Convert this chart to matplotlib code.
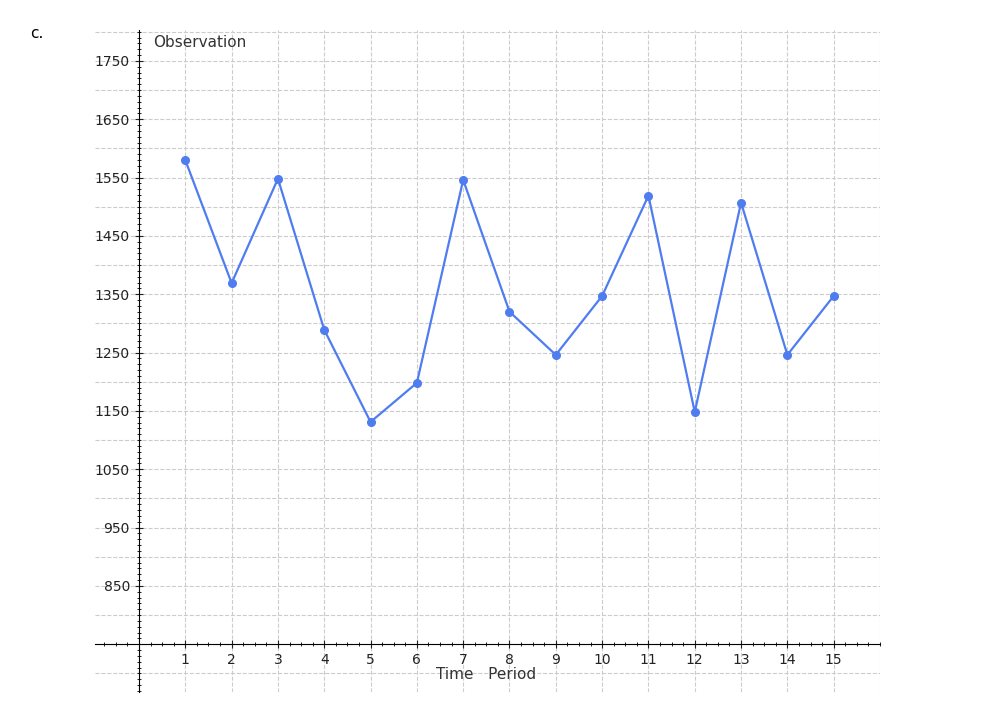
import matplotlib
matplotlib.use("Agg")
import matplotlib.pyplot as plt
from matplotlib.ticker import MultipleLocator

periods = list(range(1, 16))
observations = [1580, 1369, 1548, 1289, 1131, 1198, 1546, 1320, 1246, 1347, 1519, 1148, 1507, 1246, 1347]
yticks = list(range(850, 1751, 100))

fig = plt.figure(figsize=(10.01, 7.24), dpi=100)
ax = fig.add_axes([95/1001, 1-692/724, (880-95)/1001, (692-30)/724])
ax.set_xlim(-0.95, 16.0)
ax.set_ylim(668, 1803)
for s in ['top', 'right']:
    ax.spines[s].set_visible(False)
ax.spines['left'].set_position(('data', 0))
ax.spines['bottom'].set_position(('data', 750))
ax.set_xticks(periods)
ax.set_yticks(yticks)
ax.xaxis.set_minor_locator(MultipleLocator(0.25))
ax.yaxis.set_minor_locator(MultipleLocator(10))
ax.tick_params(axis='both', direction='inout', length=6, labelsize=10, colors='#222222')
ax.tick_params(which='minor', direction='inout', length=3)
for v in range(-1, 17):
    ax.axvline(v, color='#cccccc', ls='--', lw=0.8, zorder=0)
for v in range(700, 1801, 50):
    ax.axhline(v, color='#cccccc', ls='--', lw=0.8, zorder=0)
ax.plot(periods, observations, color='#4f7df0', lw=1.6, marker='o', ms=5.5, zorder=3)
ax.text(0.3, 1795, 'Observation', fontsize=11, va='top', color='#333333')
ax.text(7.5, 711, 'Time   Period', fontsize=11, va='top', ha='center', color='#333333')
fig.text(30/1001, 1-33/724, 'c.', fontsize=11, va='center')
fig.savefig('out.png')
